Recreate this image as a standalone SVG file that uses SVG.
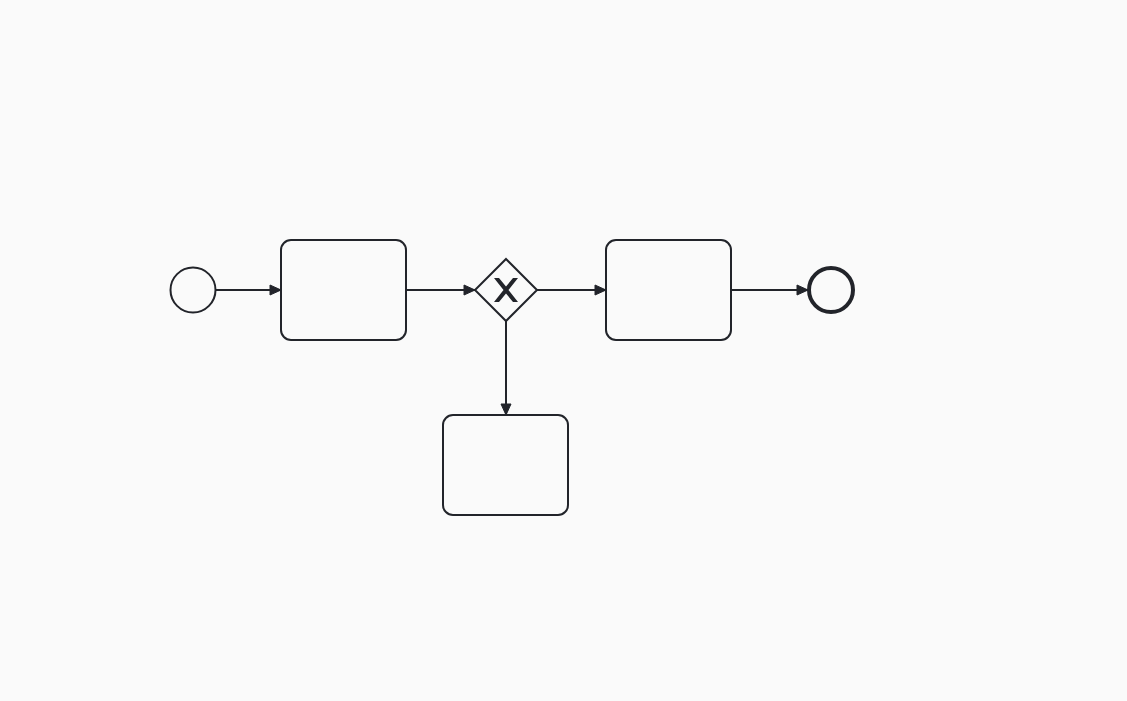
<svg xmlns="http://www.w3.org/2000/svg" width="1127" height="701" viewBox="0 0 1127 701">
<style>
.s{fill:#fafafa;stroke:#22242a;stroke-width:2}
.c{fill:none;stroke:#22242a;stroke-width:2;marker-end:url(#a)}
</style>
<defs><marker id="a" viewBox="0 0 13 12" refX="12" refY="6" markerWidth="13" markerHeight="12" markerUnits="userSpaceOnUse" orient="auto"><path d="M1 1L12 6L1 11Z" fill="#22242a" stroke="#22242a" stroke-width="1"/></marker></defs>
<rect width="1127" height="701" fill="#fafafa"/>
<g id="connectors">
<path class="c" d="M216 290H281"/>
<path class="c" d="M406 290H475"/>
<path class="c" d="M537 290H606"/>
<path class="c" d="M731 290H808"/>
<path class="c" d="M506 321V415"/>
</g>
<g id="start"><circle class="s" cx="193" cy="290" r="22.5"/></g>
<g id="task1"><rect class="s" x="281" y="240" width="125" height="100" rx="10"/></g>
<g id="gateway"><path class="s" d="M506 259L537 290L506 321L475 290Z"/>
<path fill="#22242a" d="M494 278h5l7 8.5l7-8.5h5l-9.5 12l9.5 12h-5l-7-8.5l-7 8.5h-5l9.5-12z"/></g>
<g id="task2"><rect class="s" x="606" y="240" width="125" height="100" rx="10"/></g>
<g id="task3"><rect class="s" x="443" y="415" width="125" height="100" rx="10"/></g>
<g id="end"><circle cx="831" cy="290" r="22" fill="#fafafa" stroke="#22242a" stroke-width="4"/></g>
</svg>
